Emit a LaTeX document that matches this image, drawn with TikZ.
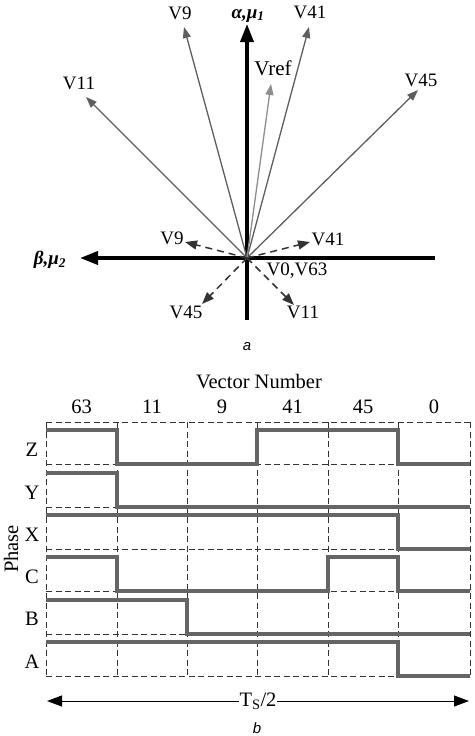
\documentclass[tikz,border=0pt]{standalone}
\usepackage{fontspec}
\setmainfont{Liberation Serif}
\newfontfamily\capfont{Liberation Sans}
\usetikzlibrary{arrows.meta}
\definecolor{vecgray}{HTML}{5E5E5E}
\definecolor{refgray}{HTML}{8E8E8E}
\definecolor{dashgray}{HTML}{333333}
\definecolor{wavegray}{HTML}{656565}
\definecolor{gridgray}{HTML}{333333}
\begin{document}
\begin{tikzpicture}[x=1pt,y=-1pt,
  axis/.style={line width=3.6pt,-{Triangle[length=18pt,width=13pt]}},
  longvec/.style={vecgray,line width=1.3pt,-{Triangle[length=11pt,width=8pt]}},
  refvec/.style={refgray,line width=1.3pt,-{Triangle[length=11pt,width=8pt]}},
  shortvec/.style={dashgray,line width=1.5pt,dash pattern=on 7pt off 5pt,-{Triangle[length=12pt,width=9pt]}},
  lab/.style={font=\fontsize{19}{21}\selectfont,inner sep=0pt},
  blab/.style={font=\fontsize{20.5}{22}\selectfont,inner sep=0pt},
  axlab/.style={font=\fontsize{19}{21}\selectfont\bfseries\itshape,inner sep=0pt},
  gridline/.style={gridgray,line width=1pt,dash pattern=on 6pt off 3.5pt},
  wave/.style={wavegray,line width=3.8pt,line join=miter},
  caplab/.style={font=\capfont\itshape\fontsize{15}{16}\selectfont,inner sep=0pt},
  tsarrow/.style={black,line width=1pt,{Triangle[length=15pt,width=11pt]}-{Triangle[length=15pt,width=11pt]}}]
\useasboundingbox (0,0) rectangle (474,736);

% ---------------- part a ----------------
\coordinate (O) at (247,258);
\coordinate (ybot) at (247,320);
\coordinate (ytop) at (247,24);
\coordinate (xright) at (435,258);
\coordinate (xleft) at (80,258);
\draw[axis] (ybot) -- (ytop);
\draw[axis] (xright) -- (xleft);
\node[axlab,anchor=base] (alab) at (248,18) {α,μ\textsubscript{1}};
\node[axlab] (blab) at (50,260) {β,μ\textsubscript{2}};

% long vectors
\coordinate (t9) at (184,27);
\coordinate (t41) at (309,27);
\coordinate (t11) at (86,97);
\coordinate (t45) at (418,90);
\coordinate (tref) at (271,84);
\draw[longvec] (O) -- (t9);
\draw[longvec] (O) -- (t41);
\draw[longvec] (O) -- (t11);
\draw[longvec] (O) -- (t45);
\draw[refvec] (O) -- (tref);
\node[lab] (l9) at (180,13) {V9};
\node[lab] (l41) at (310,12) {V41};
\node[lab] (l11) at (79,83) {V11};
\node[lab] (l45) at (421,80) {V45};
\node[lab,font=\fontsize{21}{23}\selectfont] (lref) at (273,68) {Vref};

% short dashed vectors
\coordinate (s9) at (185,242);
\coordinate (s41) at (310,242);
\coordinate (s45) at (202,304);
\coordinate (s11) at (294,305);
\draw[shortvec] (O) -- (s9);
\draw[shortvec] (O) -- (s41);
\draw[shortvec] (O) -- (s45);
\draw[shortvec] (O) -- (s11);
\node[lab] (ls9) at (172,238) {V9};
\node[lab] (ls41) at (328,239) {V41};
\node[lab] (ls45) at (186,312) {V45};
\node[lab] (ls11) at (303,312) {V11};
\node[lab] (lzero) at (297,271) {V0,V63};

\node[caplab] (capa) at (247,347) {a};

% ---------------- part b ----------------
\node[blab] (vn) at (259,382) {Vector Number};
\foreach \n/\x in {63/81.5,11/152,9/222,41/292.5,45/363,0/434}
  \node[blab] (col\n) at (\x,407) {\n};

% grid
\foreach \x in {46,117,187,257,328,398,470}
  \draw[gridline] (\x,422) -- (\x,676);
\foreach \y in {422,464,507,549,591,634,676}
  \draw[gridline] (46,\y) -- (470,\y);

% waveforms
\draw[wave] (46,430) -- (117,430) -- (117,464) -- (257,464) -- (257,430) -- (398,430) -- (398,464) -- (470,464);
\draw[wave] (46,473) -- (117,473) -- (117,507) -- (470,507);
\draw[wave] (46,515) -- (398,515) -- (398,549) -- (470,549);
\draw[wave] (46,557) -- (117,557) -- (117,591) -- (328,591) -- (328,557) -- (398,557) -- (398,591) -- (470,591);
\draw[wave] (46,600) -- (187,600) -- (187,634) -- (470,634);
\draw[wave] (46,642) -- (398,642) -- (398,676) -- (470,676);

% row labels
\node[blab] (rZ) at (32,450) {Z};
\node[blab] (rY) at (32,493) {Y};
\node[blab] (rX) at (32,535) {X};
\node[blab] (rC) at (32,577) {C};
\node[blab] (rB) at (32,619) {B};
\node[blab] (rA) at (32,662) {A};
\node[blab,rotate=90] (phase) at (11,549) {Phase};

% Ts/2 arrow
\coordinate (tsl) at (47,701);
\coordinate (tsr) at (469,701);
\draw[tsarrow] (tsl) -- (tsr);
\node[blab,fill=white,inner xsep=1pt,inner ysep=2pt] (ts) at (258,701) {T\textsubscript{S}/2};

\node[caplab] (capb) at (257,728) {b};
\end{tikzpicture}
\end{document}
